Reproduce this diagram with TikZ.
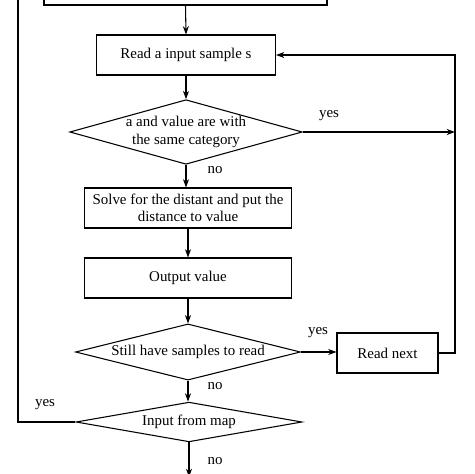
\documentclass[tikz,border=0pt]{standalone}
\usepackage{fontspec}
\setmainfont{Liberation Serif}
\usetikzlibrary{arrows.meta,positioning,shapes.geometric}

\begin{document}
\begin{tikzpicture}[x=0.75pt,y=-0.75pt,
  every node/.style={font=\fontsize{11.2}{13.2}\selectfont},
  box/.style={draw,line width=0.8pt,rectangle,minimum height=30pt,inner sep=2pt,align=center},
  decision/.style={draw,line width=0.8pt,diamond,aspect=3.6,inner sep=0pt,align=center},
  flow/.style={line width=0.8pt,-{Stealth[length=2.2mm,width=1.6mm]}},
  rail/.style={line width=0.8pt}]
  \useasboundingbox (0,0) rectangle (474,474);
  \clip (0,0) rectangle (474,474);
  % main column
  \node[box,minimum width=212.25pt] (init) at (185.5,-15) {};
  \node[box,minimum width=134.25pt] (read) at (186,55) {Read a input sample s};
  \node[decision,minimum width=171pt,minimum height=47.25pt] (same) at (186,132)
    {a and value are with\\the same category};
  \node[box,minimum width=155.25pt] (solve) at (188,208)
    {Solve for the distant and put the\\distance to value};
  \node[box,minimum width=155.25pt] (output) at (188,278) {Output value};
  \node[decision,minimum width=168.75pt,minimum height=30.75pt] (more) at (188,352)
    {Still have samples to read};
  \node[box,minimum width=75.75pt] (next) at (387.5,353) {Read next};
  \node[decision,minimum width=169.5pt,minimum height=29.25pt] (map) at (189,422)
    {Input from map};
  % free ends of the loops
  \coordinate (railtop) at (455,55);
  \coordinate (leftrail) at (18,-30);
  \coordinate (exit) at (188,477);
  % branch labels
  \node (yes1) at (329,116) {yes};
  \node (no1) at (215,170) {no};
  \node (yes2) at (318,333) {yes};
  \node (no2) at (215,386) {no};
  \node (yes3) at (45,405) {yes};
  \node (no3) at (215,461) {no};
  % connectors
  \draw[flow] (init.south) -- (read.north);
  \draw[flow] (read.south) -- (same.north);
  \draw[flow] (same.south) -- (same.south |- solve.north);
  \draw[flow] (solve.south) -- (output.north);
  \draw[flow] (output.south) -- (more.north);
  \draw[flow] (more.south) -- (more.south |- map.north);
  \draw[flow] (map.south) -- (map.south |- exit);
  \draw[flow] (same.east) -- (same.east -| railtop);
  \draw[flow] (more.east) -- (more.east -| next.west);
  \draw[flow] (next.east) -| (railtop) -- (read.east);
  \draw[rail] (map.west) -| (leftrail);
\end{tikzpicture}
\end{document}
